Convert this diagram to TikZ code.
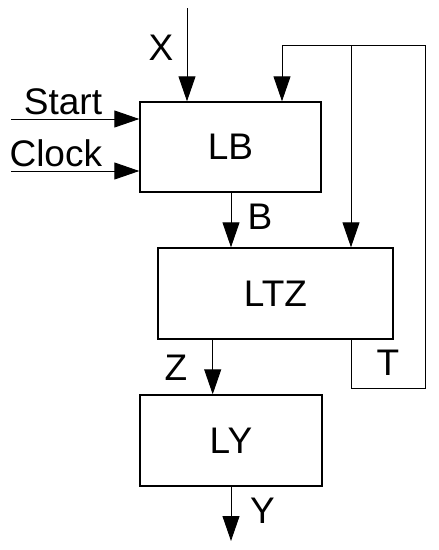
\documentclass[tikz,border=0pt]{standalone}
\usepackage{fontspec}
\setmainfont{Liberation Sans}
\usetikzlibrary{arrows.meta}
\begin{document}
\begin{tikzpicture}[x=1pt,y=-1pt,
  blk/.style={draw,line width=1.4pt,inner sep=0pt,font=\fontsize{37}{44}\selectfont},
  lbl/.style={inner sep=0pt,font=\fontsize{37}{44}\selectfont},
  wire/.style={line width=0.9pt},
  arr/.style={wire,-{Triangle[length=25pt,width=17pt]}}]
\useasboundingbox (0,0) rectangle (439,550);
\node[blk,minimum width=181pt,minimum height=90pt] (LB) at (230.5,147) {LB};
\node[blk,minimum width=235pt,minimum height=91pt] (LTZ) at (275.5,293.5) {LTZ};
\node[blk,minimum width=182pt,minimum height=91pt] (LY) at (231,440.5) {LY};
\coordinate (xin) at (187,8);
\coordinate (sin) at (11,119);
\coordinate (cin) at (11,171);
\coordinate (fbA) at (282,45);
\coordinate (fbB) at (351,45);
\coordinate (fbC) at (425,45);
\coordinate (fbD) at (425,388);
\coordinate (fbE) at (351,388);
\coordinate (yout) at (231,541);
\draw[arr] (xin) -- (xin |- LB.north);
\draw[arr] (sin) -- (sin -| LB.west);
\draw[arr] (cin) -- (cin -| LB.west);
\draw[arr] (231,0 |- LB.south) -- (231,0 |- LTZ.north);
\draw[arr] (212.7,0 |- LTZ.south) -- (212.7,0 |- LY.north);
\draw[arr] (231,0 |- LY.south) -- (yout);
\draw[wire] (fbE |- LTZ.south) -- (fbE) -- (fbD) -- (fbC) -- (fbA);
\draw[arr] (fbA) -- (fbA |- LB.north);
\draw[arr] (fbB) -- (fbB |- LTZ.north);
\node[lbl] (lX) at (161,48) {X};
\node[lbl] (lS) at (63,101.7) {Start};
\node[lbl] (lC) at (55.8,153.3) {Clock};
\node[lbl] (lB) at (260,217) {B};
\node[lbl] (lZ) at (176,368) {Z};
\node[lbl] (lT) at (388,362.5) {T};
\node[lbl] (lY) at (262.5,511) {Y};
\end{tikzpicture}
\end{document}
